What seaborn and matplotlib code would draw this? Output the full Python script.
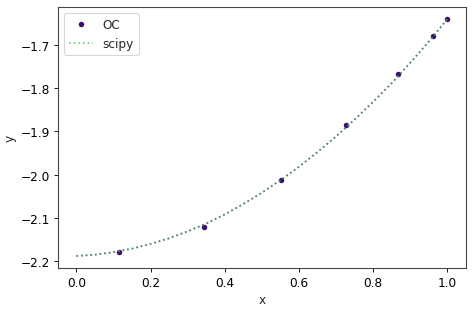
import matplotlib
matplotlib.use("Agg")
import matplotlib.pyplot as plt
import seaborn as sns
import pandas as pd

# OC collocation points
oc_x = [0.115, 0.343, 0.551, 0.728, 0.868, 0.960, 1.0]
oc_y = [-2.179, -2.120, -2.013, -1.886, -1.768, -1.681, -1.641]

# scipy reference solution
sp_x = [0.0, 0.05, 0.1, 0.15, 0.2, 0.25, 0.3, 0.35, 0.4, 0.45, 0.5, 0.55,
        0.6, 0.65, 0.7, 0.75, 0.8, 0.85, 0.9, 0.95, 1.0]
sp_y = [-2.188, -2.185, -2.179, -2.171, -2.160, -2.147, -2.131, -2.113,
        -2.092, -2.068, -2.042, -2.013, -1.982, -1.948, -1.912, -1.873,
        -1.832, -1.789, -1.742, -1.693, -1.641]

oc_df = pd.DataFrame({"x": oc_x, "y": oc_y})
sp_df = pd.DataFrame({"x": sp_x, "y": sp_y})

sns.set_style("white")
plt.rcParams["font.family"] = ["DejaVu Sans"]
plt.rcParams["font.size"] = 11

fig, ax = plt.subplots(figsize=(6, 3.962), dpi=79)
fig.subplots_adjust(left=0.122, right=0.983, top=0.974, bottom=0.141)

sns.lineplot(data=oc_df, x="x", y="y", ax=ax, marker="o", linestyle="",
             color="#3a0f6e", markersize=5, markeredgewidth=0, label="OC")
sns.lineplot(data=sp_df, x="x", y="y", ax=ax, linestyle=":", color="#7ccf7c",
             linewidth=1.6, label="scipy")
sns.lineplot(data=sp_df, x="x", y="y", ax=ax, linestyle=":", color="#3a3a6a",
             linewidth=1.6, alpha=0.55, legend=False)

for s in ax.spines.values():
    s.set_color("#444444")
    s.set_linewidth(1.0)
ax.tick_params(axis="both", which="both", direction="out", length=3.5,
               width=0.8, colors="black", bottom=True, left=True, labelsize=11)
ax.set_xlabel("x", fontsize=11)
ax.set_ylabel("y", fontsize=11)
ax.set_xticks([0.0, 0.2, 0.4, 0.6, 0.8, 1.0])
ax.set_yticks([-2.2, -2.1, -2.0, -1.9, -1.8, -1.7])
ax.legend(loc="upper left", frameon=True, fontsize=11)

fig.savefig("out.png", dpi=79)
